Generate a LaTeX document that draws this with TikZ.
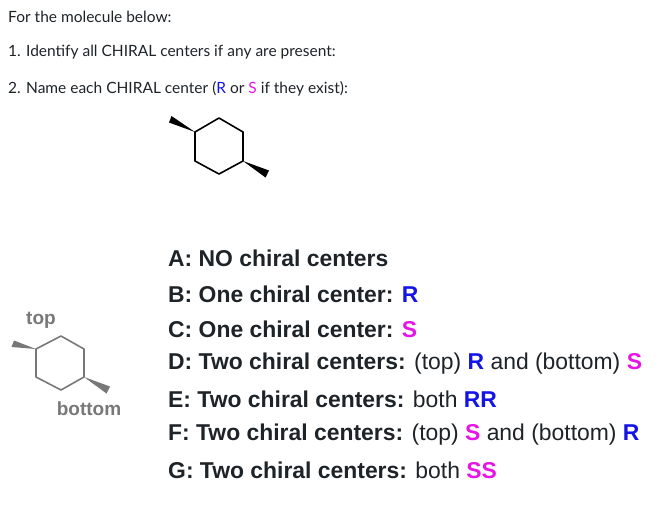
\documentclass[tikz,border=0pt]{standalone}
\usepackage{fontspec}
\setmainfont{Liberation Sans}
\newfontfamily\lato{Lato}
\definecolor{rblue}{RGB}{20,20,230}
\definecolor{smag}{RGB}{230,20,230}
\definecolor{gr}{RGB}{120,120,120}
\definecolor{txt}{RGB}{30,35,40}
\begin{document}
\begin{tikzpicture}[x=1pt,y=-1pt,
  q/.style={anchor=west,inner sep=0pt,text=txt,font=\lato\fontsize{15.5}{18}\selectfont},
  ans/.style={anchor=west,inner sep=0pt,text=txt,font=\fontsize{22.9}{26}\selectfont\bfseries},
  bond/.style={line width=1.6pt,line join=round},
  gbond/.style={line width=1.6pt,draw=gr,line join=round},
  lbl/.style={inner sep=0pt,text=gr,font=\fontsize{19}{22}\selectfont\bfseries}]
\useasboundingbox (0,0) rectangle (663,504);
\newcommand{\Rr}{\textcolor{rblue}{R}}
\newcommand{\Ss}{\textcolor{smag}{S}}
\node[q] (t1) at (8,17) {For the molecule below:};
\node[q] (t2) at (8,52) {1. Identify all CHIRAL centers if any are present:};
\node[q] (t3) at (8,89) {2. Name each CHIRAL center (\textcolor{rblue}{R} or \textcolor{smag}{S} if they exist):};
% top molecule
\coordinate (a1) at (195,132); \coordinate (a2) at (219,118); \coordinate (a3) at (243,132);
\coordinate (a4) at (243,161); \coordinate (a5) at (219,174); \coordinate (a6) at (195,161);
\draw[bond] (a1)--(a2)--(a3)--(a4)--(a5)--(a6)--cycle;
\fill (a1) -- (171.5,116) -- (169,122.5) -- cycle;
\fill (a4) -- (269,170.5) -- (265.5,177.5) -- cycle;
% bottom molecule
\coordinate (b1) at (36,349); \coordinate (b2) at (61,336); \coordinate (b3) at (84,349);
\coordinate (b4) at (84,377); \coordinate (b5) at (61,390); \coordinate (b6) at (36,377);
\draw[gbond] (b1)--(b2)--(b3)--(b4)--(b5)--(b6)--cycle;
\fill[gr] (b1) -- (14,340.5) -- (11.5,347) -- cycle;
\fill[gr] (b4) -- (110,386.5) -- (106.5,393.5) -- cycle;
\node[lbl] (top) at (41,320) {top};
\node[lbl] (bot) at (89,409) {bottom};
% answers
\node[ans] (A) at (168,258) {A: NO chiral centers};
\node[ans] (B) at (168,294) {B: One chiral center: \Rr};
\node[ans] (C) at (168,329) {C: One chiral center: \Ss};
\node[ans] (D) at (168,364) {D: Two chiral centers: \mdseries(top) \bfseries\Rr{} \mdseries and (bottom) \bfseries\Ss};
\node[ans] (E) at (168,399) {E: Two chiral centers: \mdseries both \bfseries\Rr\Rr};
\node[ans] (F) at (168,435) {F: Two chiral centers: \mdseries(top) \bfseries\Ss{} \mdseries and (bottom) \bfseries\Rr};
\node[ans] (G) at (168,470) {G: Two chiral centers: \mdseries both \bfseries\Ss\Ss};
\end{tikzpicture}
\end{document}
